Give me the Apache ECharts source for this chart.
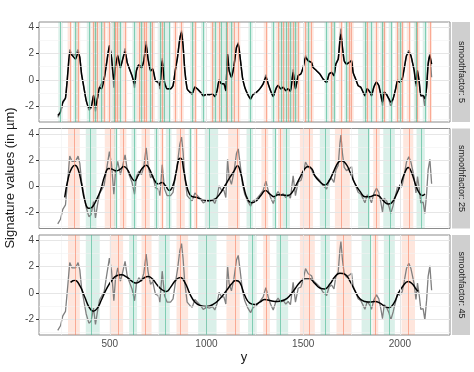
<!DOCTYPE html>
<html>
<head>
<meta charset="utf-8">
<script src="https://cdn.jsdelivr.net/npm/echarts@6/dist/echarts.min.js"></script>
<style>
  html, body { margin: 0; padding: 0; background: #fff; }
  #chart { width: 474px; height: 372px; }
</style>
</head>
<body>
<div id="chart"></div>
<script>
// raw signal (gray) and smoothfactor 5 curve share the same positions
var sigX = [231,245,257,271,284,293,305,323,336,345,354,366,378,392,403,416,426,436,447,457,471,483,498,509,521,529,541,555,567,579,590,602,615,628,638,650,664,676,688,698,711,722,736,750,759,771,783,796,814,827,840,850,862,871,879,888,900,914,926,940,953,969,983,1000,1017,1031,1043,1055,1065,1078,1090,1100,1109,1117,1129,1141,1155,1164,1174,1186,1198,1212,1228,1241,1259,1276,1293,1307,1319,1331,1345,1359,1370,1384,1396,1410,1422,1434,1448,1460,1474,1488,1500,1512,1526,1543,1551,1569,1586,1603,1621,1634,1647,1659,1669,1681,1690,1695,1703,1712,1724,1738,1750,1758,1771,1784,1798,1810,1819,1831,1845,1853,1865,1879,1891,1902,1910,1919,1931,1943,1953,1965,1978,1988,2000,2012,2022,2034,2046,2057,2065,2074,2083,2091,2100,2108,2120,2129,2138,2146,2155,2164];
var rawY = [-2.85,-2.5,-1.75,-1.4,0.75,2.3,1.9,1.9,2.3,1.75,0.4,-0.6,-1.6,-2.3,-2.15,-1.15,-2.4,-1.45,-0.55,-0.7,0.1,1.25,2.65,1.7,-0.6,1.0,1.9,0.9,1.6,2.4,1.3,0.8,0.3,-0.6,0.75,1.15,0.9,1.5,2.95,1.6,0.65,0.85,-0.1,-0.2,-0.7,1.65,-0.2,-0.7,-0.7,-0.45,0.85,1.75,3.2,3.75,2.6,0.7,-0.7,-0.95,-1.1,-0.5,-0.7,-0.95,-1.25,-1.1,-1.15,-1.05,-1.3,-0.8,0.05,-0.3,-0.3,-0.85,2.05,0.7,0.15,1.0,2.5,2.85,1.7,0.15,-0.6,-1.1,-1.5,-1.1,-0.95,-0.65,-0.3,0.4,-0.3,-0.85,-1.3,-0.65,-0.4,-0.7,-0.55,-0.85,-0.65,-0.9,0.8,-0.7,0.35,0.45,1.0,1.85,1.45,1.3,0.95,0.7,0.45,0.05,-0.2,0.45,0.6,0.3,1.25,1.6,3.3,3.9,2.5,1.45,1.2,1.35,1.5,0.55,0.05,-0.45,-0.6,-0.95,-1.25,-0.65,-0.95,-1.25,-0.55,-0.15,-0.45,-1.25,-1.95,-0.9,-1.1,-1.5,-2.05,-1.45,-0.65,0.0,-0.2,0.1,0.85,1.85,2.25,1.85,1.3,0.65,-0.5,0.75,-0.2,-1.25,-1.2,-2.05,-0.55,1.25,2.05,0.2];
var sf5Y = [-2.7,-2.44,-1.69,-1.36,0.7,2.08,1.88,1.58,2.08,1.7,0.45,-0.56,-1.56,-2.1,-2.1,-1.18,-2.1,-1.43,-0.56,-0.68,0.07,1.2,2.59,1.7,-0.05,0.95,1.83,0.95,1.58,2.14,1.33,0.83,0.32,-0.3,0.7,1.13,0.95,1.45,2.66,1.58,0.7,0.83,-0.05,-0.18,-0.43,1.45,-0.18,-0.68,-0.68,-0.43,0.83,1.7,3.09,3.6,2.59,0.7,-0.68,-0.93,-1.06,-0.56,-0.68,-0.93,-1.18,-1.11,-1.11,-1.06,-1.26,-0.81,-0.05,-0.3,-0.3,-0.81,1.96,0.7,0.2,0.95,2.46,2.72,1.7,0.2,-0.56,-1.06,-1.43,-1.11,-0.93,-0.68,-0.3,0.2,-0.3,-0.81,-1.26,-0.68,-0.43,-0.68,-0.56,-0.81,-0.68,-0.86,0.57,-0.68,0.32,0.45,0.95,1.7,1.45,1.33,0.95,0.7,0.45,0.07,-0.18,0.45,0.57,0.32,1.2,1.58,2.97,3.47,2.46,1.45,1.2,1.33,1.45,0.57,0.07,-0.43,-0.56,-0.93,-1.18,-0.68,-0.93,-1.18,-0.56,-0.18,-0.43,-1.18,-1.69,-0.93,-1.11,-1.43,-1.69,-1.43,-0.68,-0.05,-0.18,0.07,0.83,1.83,2.08,1.83,1.33,0.7,-0.3,0.7,-0.18,-1.18,-1.18,-1.43,-0.56,1.2,1.83,1.2];

// smoothfactor 25 curve
var sf25X = [267,288,305,319,336,354,371,391,408,429,452,474,495,512,533,555,572,590,612,629,646,667,688,705,728,750,770,788,808,826,843,857,867,884,902,923,948,974,1008,1039,1069,1095,1121,1143,1160,1176,1193,1212,1233,1259,1281,1305,1327,1348,1370,1396,1422,1443,1466,1488,1509,1526,1546,1560,1586,1612,1634,1659,1681,1699,1722,1743,1769,1795,1819,1845,1871,1888,1914,1939,1957,1979,2004,2026,2043,2060,2083,2103,2117,2129];
var sf25Y = [-0.83,0.81,1.43,1.61,1.31,0.18,-1.08,-1.66,-1.58,-1.08,-0.32,0.81,1.36,1.31,1.18,1.31,1.51,1.31,0.68,0.43,0.81,1.36,1.61,1.31,0.56,0.18,0.3,0.05,-0.32,0.05,1.06,2.07,2.14,1.06,-0.2,-0.75,-0.83,-1.0,-1.08,-1.0,-0.57,0.05,0.68,1.18,1.56,1.06,-0.07,-0.95,-1.25,-1.08,-0.7,-0.32,-0.57,-0.78,-0.63,-0.65,-0.7,-0.45,0.18,0.81,1.36,1.51,1.31,0.81,0.35,0.1,0.43,1.18,1.81,1.94,1.69,1.06,0.18,-0.4,-0.78,-0.78,-0.65,-0.7,-1.08,-1.33,-1.25,-0.7,0.18,1.06,1.43,1.06,0.05,-0.57,-0.7,-0.57];

// smoothfactor 45 curve
var sf45X = [297,319,345,371,393,414,434,457,483,509,535,560,586,612,634,655,681,698,721,745,772,793,814,841,865,888,914,940,965,1000,1034,1069,1103,1129,1151,1172,1198,1224,1250,1276,1302,1328,1353,1379,1405,1431,1457,1483,1509,1534,1560,1586,1612,1638,1664,1690,1715,1741,1767,1793,1819,1845,1871,1897,1922,1944,1969,1991,2017,2043,2065,2083,2095];
var sf45Y = [0.8,0.97,0.55,-0.33,-1.08,-1.4,-1.2,-0.52,0.3,0.92,1.3,1.37,1.22,0.92,0.75,0.87,1.17,1.24,1.05,0.6,0.22,0.1,0.42,0.97,1.17,0.8,-0.07,-0.7,-0.95,-1.03,-0.88,-0.45,0.17,0.67,0.95,0.8,-0.2,-0.78,-0.88,-0.7,-0.5,-0.58,-0.65,-0.63,-0.52,-0.2,0.3,0.8,1.05,1.05,0.72,0.37,0.3,0.67,1.22,1.5,1.42,0.92,0.17,-0.45,-0.65,-0.7,-0.65,-0.78,-1.03,-1.12,-0.78,-0.07,0.55,0.87,0.67,0.3,0.12];

// detected peaks / valleys, smoothfactor 5 (positions)
var peaks5 = [293,336,416,436,471,498,529,541,579,650,676,688,722,771,840,871,940,1031,1065,1109,1141,1164,1307,1370,1396,1422,1448,1474,1512,1543,1647,1695,1738,1750,1831,1879,1919,1988,2012,2046,2091,2155];
var valleys5 = [245,323,392,426,457,521,555,628,664,711,759,783,805,926,983,1043,1078,1100,1129,1228,1345,1384,1410,1434,1460,1526,1621,1659,1724,1819,1853,1910,1953,2000,2083,2129];

// smoothfactor 25: [from, to, position]
var peaks25 = [[284,345,314],[474,526,500],[552,586,569],[664,707,684],[762,778,770],[845,888,862],[935,955,945],[1112,1172,1158],[1284,1319,1302],[1370,1396,1383],[1483,1551,1529],[1664,1741,1695],[1862,1896,1879],[2017,2069,2046]];
var valleys25 = [[376,431,400],[522,540,531],[612,638,626],[729,755,741],[790,819,807],[908,925,917],[991,1060,1013],[1207,1241,1228],[1341,1362,1353],[1396,1431,1410],[1586,1638,1612],[1784,1845,1836],[1914,1974,1948],[2086,2129,2108]];

// smoothfactor 45: [from, to, position]
var peaks45 = [[284,345,319],[500,569,543],[664,716,684],[845,905,862],[1103,1172,1151],[1293,1328,1310],[1483,1560,1531],[1672,1750,1707],[1858,1888,1871],[2009,2078,2043]];
var valleys45 = [[376,448,405],[600,641,621],[755,810,788],[957,1052,1000],[1215,1259,1238],[1362,1422,1379],[1590,1638,1612],[1802,1853,1848],[1917,1974,1945]];

var stripLabels = ['smoothfactor: 5', 'smoothfactor: 25', 'smoothfactor: 45'];
var xBreaks = [500, 1000, 1500, 2000];
var xMinor = [250, 750, 1250, 1750, 2250];
var yBreaks = [-2, 0, 2, 4];
var yMinor = [-3, -1, 1, 3];

var xMin = 134, xMax = 2259, yMin = -3.2, yMax = 4.4;
var tops = [22, 128.5, 235];
var panelH = 100;

var peakFill = 'rgba(252,141,98,0.22)', peakLine = 'rgba(246,130,100,0.6)';
var valleyFill = 'rgba(102,194,165,0.24)', valleyLine = 'rgba(80,186,150,0.65)';

function pairs(xs, ys) {
    return xs.map(function (x, i) { return [x, ys[i]]; });
}

function toBands(list) {
    return list.map(function (b) {
        return b.length ? b : [b - 11, b + 11, b];
    });
}

var chart = echarts.init(document.getElementById('chart'), null, {renderer: 'canvas'});

var grids = [], xAxes = [], yAxes = [], series = [], graphics = [];
var smooths = [pairs(sigX, sf5Y), pairs(sf25X, sf25Y), pairs(sf45X, sf45Y)];
var peakSets = [toBands(peaks5), peaks25, peaks45];
var valleySets = [toBands(valleys5), valleys25, valleys45];
var raw = pairs(sigX, rawY);

for (var i = 0; i < 3; i++) {
    var last = (i === 2);
    grids.push({
        left: 39, top: tops[i], width: 411, height: panelH,
        show: true, borderColor: '#8c8c8c', borderWidth: 1, backgroundColor: '#fff'
    });
    xAxes.push({
        type: 'value', gridIndex: i, min: xMin, max: xMax,
        axisLine: {show: false},
        axisTick: {show: last, customValues: xBreaks, length: 3, lineStyle: {color: '#333'}},
        axisLabel: {show: last, customValues: xBreaks, color: '#4d4d4d', fontSize: 10, margin: 4,
            fontFamily: 'Liberation Sans', formatter: function (v) { return String(v); }},
        splitLine: {show: false}
    });
    yAxes.push({
        type: 'value', gridIndex: i, min: yMin, max: yMax,
        axisLine: {show: false},
        axisTick: {show: true, customValues: yBreaks, length: 3, lineStyle: {color: '#333'}},
        axisLabel: {customValues: yBreaks, color: '#4d4d4d', fontSize: 10, margin: 5,
            fontFamily: 'Liberation Sans'},
        splitLine: {show: false}
    });

    // grid lines
    var gl = [];
    yMinor.forEach(function (v) { gl.push({yAxis: v, lineStyle: {color: '#f2f2f2', width: 0.6, type: 'solid'}}); });
    xMinor.forEach(function (v) { gl.push({xAxis: v, lineStyle: {color: '#f2f2f2', width: 0.6, type: 'solid'}}); });
    yBreaks.forEach(function (v) { gl.push({yAxis: v, lineStyle: {color: '#e6e6e6', width: 1, type: 'solid'}}); });
    xBreaks.forEach(function (v) { gl.push({xAxis: v, lineStyle: {color: '#e6e6e6', width: 1, type: 'solid'}}); });
    series.push({
        type: 'line', xAxisIndex: i, yAxisIndex: i, data: raw, symbol: 'none', silent: true,
        lineStyle: {opacity: 0}, z: 0,
        markLine: {silent: true, symbol: ['none', 'none'], label: {show: false}, animation: false,
            lineStyle: {type: 'solid'}, data: gl}
    });

    // peak / valley bands
    var areas = [], lines = [];
    peakSets[i].forEach(function (b) {
        areas.push([{xAxis: b[0], itemStyle: {color: peakFill}}, {xAxis: b[1]}]);
        lines.push({xAxis: b[2], lineStyle: {color: peakLine, width: 1, type: 'solid'}});
    });
    valleySets[i].forEach(function (b) {
        areas.push([{xAxis: b[0], itemStyle: {color: valleyFill}}, {xAxis: b[1]}]);
        lines.push({xAxis: b[2], lineStyle: {color: valleyLine, width: 1, type: 'solid'}});
    });
    series.push({
        type: 'line', xAxisIndex: i, yAxisIndex: i, data: raw, symbol: 'none', silent: true,
        lineStyle: {opacity: 0}, z: 1,
        markArea: {silent: true, animation: false, data: areas},
        markLine: {silent: true, symbol: ['none', 'none'], label: {show: false}, animation: false,
            lineStyle: {type: 'solid'}, data: lines}
    });

    // raw signal
    series.push({
        type: 'line', xAxisIndex: i, yAxisIndex: i, data: raw, symbol: 'none', silent: true,
        lineStyle: {color: '#808080', width: 1.3}, z: 2
    });
    // smoothed signal
    series.push({
        type: 'line', xAxisIndex: i, yAxisIndex: i, data: smooths[i], symbol: 'none', silent: true,
        smooth: i === 0 ? 0.2 : true,
        lineStyle: {color: '#000', width: 1.5}, z: 3
    });

    // facet strip
    graphics.push({
        type: 'rect', shape: {x: 452, y: tops[i], width: 18, height: panelH},
        style: {fill: '#cfcfcf'}
    });
    graphics.push({
        type: 'text', x: 461, y: tops[i] + panelH / 2, rotation: -Math.PI / 2,
        style: {text: stripLabels[i], fill: '#1a1a1a', font: '9px "Liberation Sans"',
            textAlign: 'center', textVerticalAlign: 'middle'}
    });
}

graphics.push({
    type: 'text', x: 10, y: 178, rotation: Math.PI / 2,
    style: {text: 'Signature values (in µm)', fill: '#1a1a1a', font: '13px "Liberation Sans"',
        textAlign: 'center', textVerticalAlign: 'middle'}
});
graphics.push({
    type: 'text', x: 244, y: 357,
    style: {text: 'y', fill: '#1a1a1a', font: '13px "Liberation Sans"',
        textAlign: 'center', textVerticalAlign: 'middle'}
});

chart.setOption({
    animation: false,
    grid: grids,
    xAxis: xAxes,
    yAxis: yAxes,
    series: series,
    graphic: graphics
});
</script>
</body>
</html>
